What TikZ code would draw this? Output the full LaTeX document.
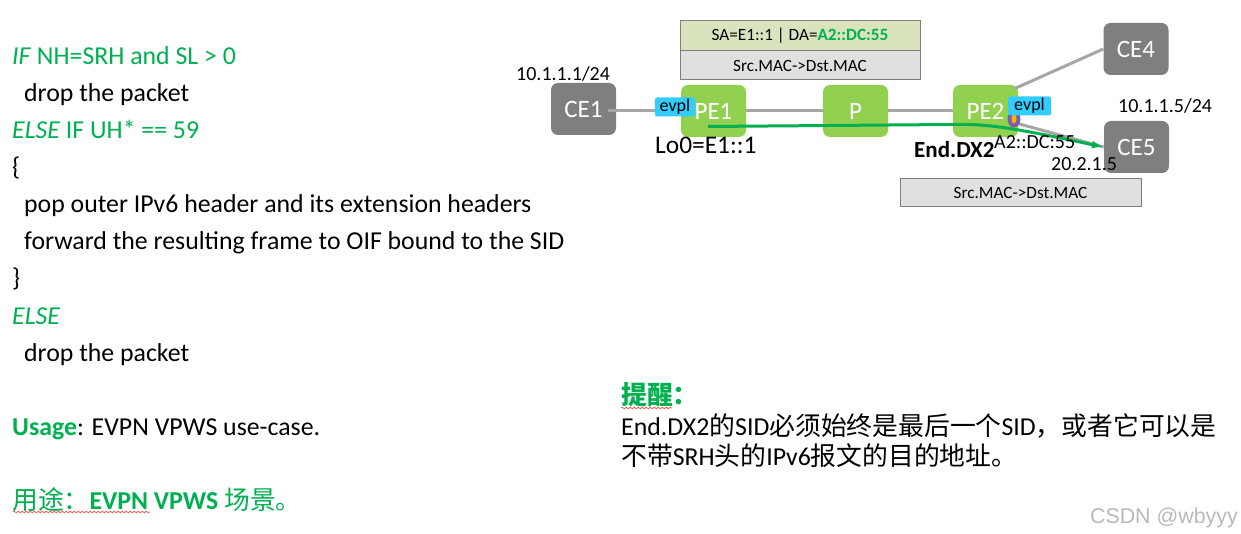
\documentclass[tikz,border=0pt]{standalone}
\usepackage{fontspec}
\setmainfont{Carlito}
\newfontfamily\cjk{Noto Sans CJK SC}
\usepackage{xcolor}
\usetikzlibrary{positioning,shapes.geometric,arrows.meta,decorations.pathmorphing}
\definecolor{nodegray}{HTML}{7F7F7F}
\definecolor{pegreen}{HTML}{92D050}
\definecolor{txtgreen}{HTML}{00B050}
\definecolor{linegray}{HTML}{A6A6A6}
\definecolor{tagblue}{HTML}{33CCFF}
\definecolor{hdrgreen}{HTML}{D9E4BF}
\definecolor{hdrgray}{HTML}{E0E0E0}
\definecolor{hdrline}{HTML}{7F7F7F}
\definecolor{sidpurple}{HTML}{7B5FA8}
\definecolor{sidorange}{HTML}{FFB000}
\tikzset{
  txt/.style={anchor=base west,inner sep=0pt,font=\fontsize{25.8}{26}\selectfont},
  lbl/.style={anchor=base west,inner sep=0pt,font=\fontsize{20}{20}\selectfont},
  router/.style={rectangle,rounded corners=7pt,minimum width=65pt,minimum height=52pt,inner sep=0pt,text=white,font=\fontsize{25}{25}\selectfont},
  ce/.style={router,fill=nodegray},
  pe/.style={router,fill=pegreen},
  link/.style={draw=linegray,line width=3pt},
  tag/.style={rectangle,rounded corners=2pt,fill=tagblue,inner sep=0pt,minimum height=19pt,font=\fontsize{18}{18}\selectfont},
  hdr/.style={rectangle,draw=hdrline,line width=1pt,inner sep=0pt,font=\fontsize{17.2}{17}\selectfont},
  squiggle/.style={draw=red!70,line width=0.7pt,decorate,decoration={snake,amplitude=0.9pt,segment length=4pt}}
}
\begin{document}
\begin{tikzpicture}[x=1pt,y=-1pt,node distance=130pt,on grid]
  \useasboundingbox (0,0) rectangle (1241,534);
  % left column
  \node[txt] (l_if) at (12,65) {\textcolor{txtgreen}{\textit{IF} NH=SRH and SL > 0}};
  \node[txt] (l_drop) at (24,102) {drop the packet};
  \node[txt,text=txtgreen] (l_elif) at (12,139) {\textit{ELSE} IF UH* == 59};
  \node[txt] (l_open) at (12,176) {\{};
  \node[txt] (l_pop) at (24,213) {pop outer IPv6 header and its extension headers};
  \node[txt] (l_fwd) at (24,250) {forward the resulting frame to OIF bound to the SID};
  \node[txt] (l_close) at (12,287) {\}};
  \node[txt] (l_else) at (12,324) {\textcolor{txtgreen}{\textit{ELSE}}};
  \node[txt] (l_drop2) at (24,361) {drop the packet};
  \node[txt] (l_usage) at (12,435) {\textcolor{txtgreen}{\textbf{Usage}}: EVPN VPWS use-case.};
  \node[txt,text=txtgreen] (l_use) at (12,509) {{\cjk 用途：}\textbf{EVPN VPWS} {\cjk 场景。}};
  \coordinate (w_a) at (13,512);
  \coordinate (w_b) at (150,512);
  \draw[squiggle] (w_a) -- (w_b);
  % note
  \node[txt] (n_head) at (621,404) {\textcolor{txtgreen}{\cjk\bfseries 提醒：}};
  \node[txt] (n_one) at (621,435) {End.DX2{\cjk 的}SID{\cjk 必须始终是最后一个}SID{\cjk ，或者它可以是}};
  \node[txt] (n_two) at (621,465) {{\cjk 不带}SRH{\cjk 头的}IPv6{\cjk 报文的目的地址。}};
  \coordinate (w_c) at (621,408);
  \coordinate (w_d) at (672,408);
  \draw[squiggle] (w_c) -- (w_d);
  % routers
  \node[ce] (ce1) at (583.5,109) {CE1};
  \node[pe] (pe1) at (713.5,111) {PE1};
  \node[pe] (p) at (855.5,111) {P};
  \node[pe] (pe2) [right=of p] {PE2};
  \node[ce] (ce4) at (1136,49) {CE4};
  \node[ce] (ce5) at (1136.5,147) {CE5};
  % links
  \draw[link] (ce1.center) ++(24,2) -- (pe1.west);
  \draw[link] (pe1) -- (p);
  \draw[link] (p) -- (pe2);
  \draw[link] (pe2.north east) ++(-4,4) -- (ce4.west);
  \coordinate (pe2_out) at (1012,122);
  \draw[link] (pe2_out) -- (ce5.west);
  % headers
  \node[hdr,fill=hdrgreen,minimum width=240pt,minimum height=30pt] (sa) at (800,36) {SA=E1::1 | DA=\textcolor{txtgreen}{\textbf{A2::DC:55}}};
  \node[hdr,fill=hdrgray,minimum width=240pt,minimum height=29pt,below=29.5pt of sa] (mac1) {Src.MAC->Dst.MAC};
  \node[hdr,fill=hdrgray,minimum width=241pt,minimum height=28pt] (mac2) at (1020.5,193) {Src.MAC->Dst.MAC};
  % sid marker
  \node[ellipse,fill=sidpurple,minimum width=13pt,minimum height=17pt,inner sep=0pt] (sid_out) at (1014,119) {};
  \node[ellipse,fill=sidorange,minimum width=5pt,minimum height=9pt,inner sep=0pt] (sid_in) at (1014,119) {};
  % tags
  \node[tag,minimum width=40pt] (tag1) at (675,107) {evpl};
  \node[tag,minimum width=43pt] (tag2) at (1029.5,106) {evpl};
  % packet path
  \coordinate (path_a) at (708,126.5);
  \coordinate (path_b) at (1103,147);
  \draw[-{Latex[length=11pt,width=8pt]},draw=txtgreen,line width=3pt] (path_a) -- (950,124.5) .. controls (985,123.5) and (1010,127) .. (path_b);
  % labels
  \node[lbl] (ip1) at (516,81) {10.1.1.1/24};
  \node[lbl] (ip5) at (1118,113) {10.1.1.5/24};
  \node[lbl,font=\fontsize{25.4}{25}\selectfont] (lo0) at (655,154) {Lo0=E1::1};
  \node[lbl,font=\bfseries\fontsize{23}{23}\selectfont] (dx2) at (914,158) {End.DX2};
  \node[lbl] (sid) at (994,149) {A2::DC:55};
  \node[lbl] (ip2) at (1051,171) {20.2.1.5};
  % watermark
  \node[anchor=base east,inner sep=0pt,text=gray!55,font=\fontspec{Liberation Sans}\fontsize{21.4}{22}\selectfont] (mark) at (1238,523) {CSDN @wbyyy};
\end{tikzpicture}
\end{document}
